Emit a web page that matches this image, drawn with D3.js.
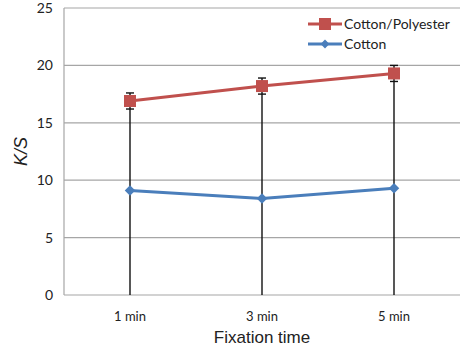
<!DOCTYPE html>
<html>
<head>
<meta charset="utf-8">
<script src="https://cdn.jsdelivr.net/npm/d3@7"></script>
<style>
  body { margin: 0; background: #fff; }
  svg { display: block; }
</style>
</head>
<body>
<svg id="chart" width="474" height="354"></svg>
<script>
// data
const categories = ["1 min", "3 min", "5 min"];
const blend = [16.9, 18.2, 19.3];      // Cotton/Polyester
const blendErr = [0.7, 0.7, 0.7];
const cotton = [9.1, 8.4, 9.3];
const yTicks = [0, 5, 10, 15, 20, 25];

const svg = d3.select("#chart");
const margin = {left: 64, right: 14, top: 8, bottom: 59};
const width = 474, height = 354;

const x = d3.scaleBand()
    .domain(categories)
    .range([margin.left, width - margin.right]);
const y = d3.scaleLinear()
    .domain([0, 25])
    .range([height - margin.bottom, margin.top]);
const cx = d => x(d) + x.bandwidth() / 2;

// grid lines
svg.append("g")
    .selectAll("line")
    .data(yTicks)
    .join("line")
    .attr("x1", margin.left)
    .attr("x2", width - margin.right)
    .attr("y1", d => y(d))
    .attr("y2", d => y(d))
    .attr("stroke", "#a6a6a6")
    .attr("stroke-width", 1.2);

// left axis line
svg.append("line")
    .attr("x1", margin.left).attr("x2", margin.left)
    .attr("y1", y(25)).attr("y2", y(0))
    .attr("stroke", "#a6a6a6")
    .attr("stroke-width", 1.2);

// y tick labels
svg.append("g")
    .selectAll("text")
    .data(yTicks)
    .join("text")
    .attr("x", margin.left - 11)
    .attr("y", d => y(d))
    .attr("dy", "0.35em")
    .attr("text-anchor", "end")
    .style("font-family", "Lato, 'Open Sans', sans-serif")
    .style("font-size", "14px")
    .attr("fill", "#222")
    .text(d => d);

// x tick labels
svg.append("g")
    .selectAll("text")
    .data(categories)
    .join("text")
    .attr("x", d => cx(d))
    .attr("y", y(0) + 26)
    .attr("text-anchor", "middle")
    .style("font-family", "Lato, 'Open Sans', sans-serif")
    .style("font-size", "13px")
    .attr("fill", "#222")
    .text(d => d);

// axis titles
svg.append("text")
    .attr("x", (margin.left + width - margin.right) / 2)
    .attr("y", 343)
    .attr("text-anchor", "middle")
    .style("font-family", "'Liberation Sans', Arial, sans-serif")
    .style("font-size", "17px")
    .attr("fill", "#222")
    .text("Fixation time");

svg.append("text")
    .attr("transform", "translate(27," + y(12.5) + ") rotate(-90)")
    .attr("text-anchor", "middle")
    .style("font-family", "'Liberation Sans', Arial, sans-serif")
    .style("font-size", "18px")
    .style("font-style", "italic")
    .attr("fill", "#222")
    .text("K/S");

// error bars (upper caps, stem running down to zero)
const err = svg.append("g").attr("stroke", "#111").attr("stroke-width", 1.4);
err.selectAll("line.stem")
    .data(categories)
    .join("line")
    .attr("class", "stem")
    .attr("x1", d => cx(d)).attr("x2", d => cx(d))
    .attr("y1", (d, i) => y(blend[i] + blendErr[i]))
    .attr("y2", y(0));
err.selectAll("line.cap-hi")
    .data(categories)
    .join("line")
    .attr("class", "cap-hi")
    .attr("x1", d => cx(d) - 4).attr("x2", d => cx(d) + 4)
    .attr("y1", (d, i) => y(blend[i] + blendErr[i]))
    .attr("y2", (d, i) => y(blend[i] + blendErr[i]));

const line = d3.line()
    .x((d, i) => cx(categories[i]))
    .y(d => y(d));

// cotton series
svg.append("path")
    .datum(cotton)
    .attr("d", line)
    .attr("fill", "none")
    .attr("stroke", "#4a7ebb")
    .attr("stroke-width", 3);
svg.append("g")
    .selectAll("path")
    .data(cotton)
    .join("path")
    .attr("d", d3.symbol(d3.symbolDiamond2, 70))
    .attr("transform", (d, i) => "translate(" + cx(categories[i]) + "," + y(d) + ")")
    .attr("fill", "#4a7ebb");

// cotton/polyester series
svg.append("path")
    .datum(blend)
    .attr("d", line)
    .attr("fill", "none")
    .attr("stroke", "#c0504d")
    .attr("stroke-width", 3);
svg.append("g")
    .selectAll("rect")
    .data(blend)
    .join("rect")
    .attr("x", (d, i) => cx(categories[i]) - 6)
    .attr("y", d => y(d) - 6)
    .attr("width", 12)
    .attr("height", 12)
    .attr("fill", "#c0504d");

// lower caps, visible just under the squares
svg.append("g").attr("stroke", "#111").attr("stroke-width", 1.4)
    .selectAll("line")
    .data(categories)
    .join("line")
    .attr("x1", d => cx(d) - 4).attr("x2", d => cx(d) + 4)
    .attr("y1", (d, i) => y(blend[i] - blendErr[i]))
    .attr("y2", (d, i) => y(blend[i] - blendErr[i]));

// legend
const legend = svg.append("g").attr("transform", "translate(308, 24)");
const legendItems = [
    {name: "Cotton/Polyester", color: "#c0504d", shape: "square"},
    {name: "Cotton", color: "#4a7ebb", shape: "diamond"}
];
legendItems.forEach((item, i) => {
    const g = legend.append("g").attr("transform", "translate(0," + i * 20 + ")");
    g.append("line")
        .attr("x1", 0).attr("x2", 34)
        .attr("stroke", item.color)
        .attr("stroke-width", 3);
    if (item.shape === "square") {
        g.append("rect").attr("x", 11).attr("y", -6).attr("width", 12).attr("height", 12).attr("fill", item.color);
    } else {
        g.append("path").attr("d", d3.symbol(d3.symbolDiamond2, 50)).attr("transform", "translate(17,0)").attr("fill", item.color);
    }
    g.append("text")
        .attr("x", 36)
        .attr("dy", "0.35em")
        .style("font-family", "Lato, 'Open Sans', sans-serif")
        .style("font-size", "14px")
        .attr("fill", "#222")
        .text(item.name);
});
</script>
</body>
</html>
